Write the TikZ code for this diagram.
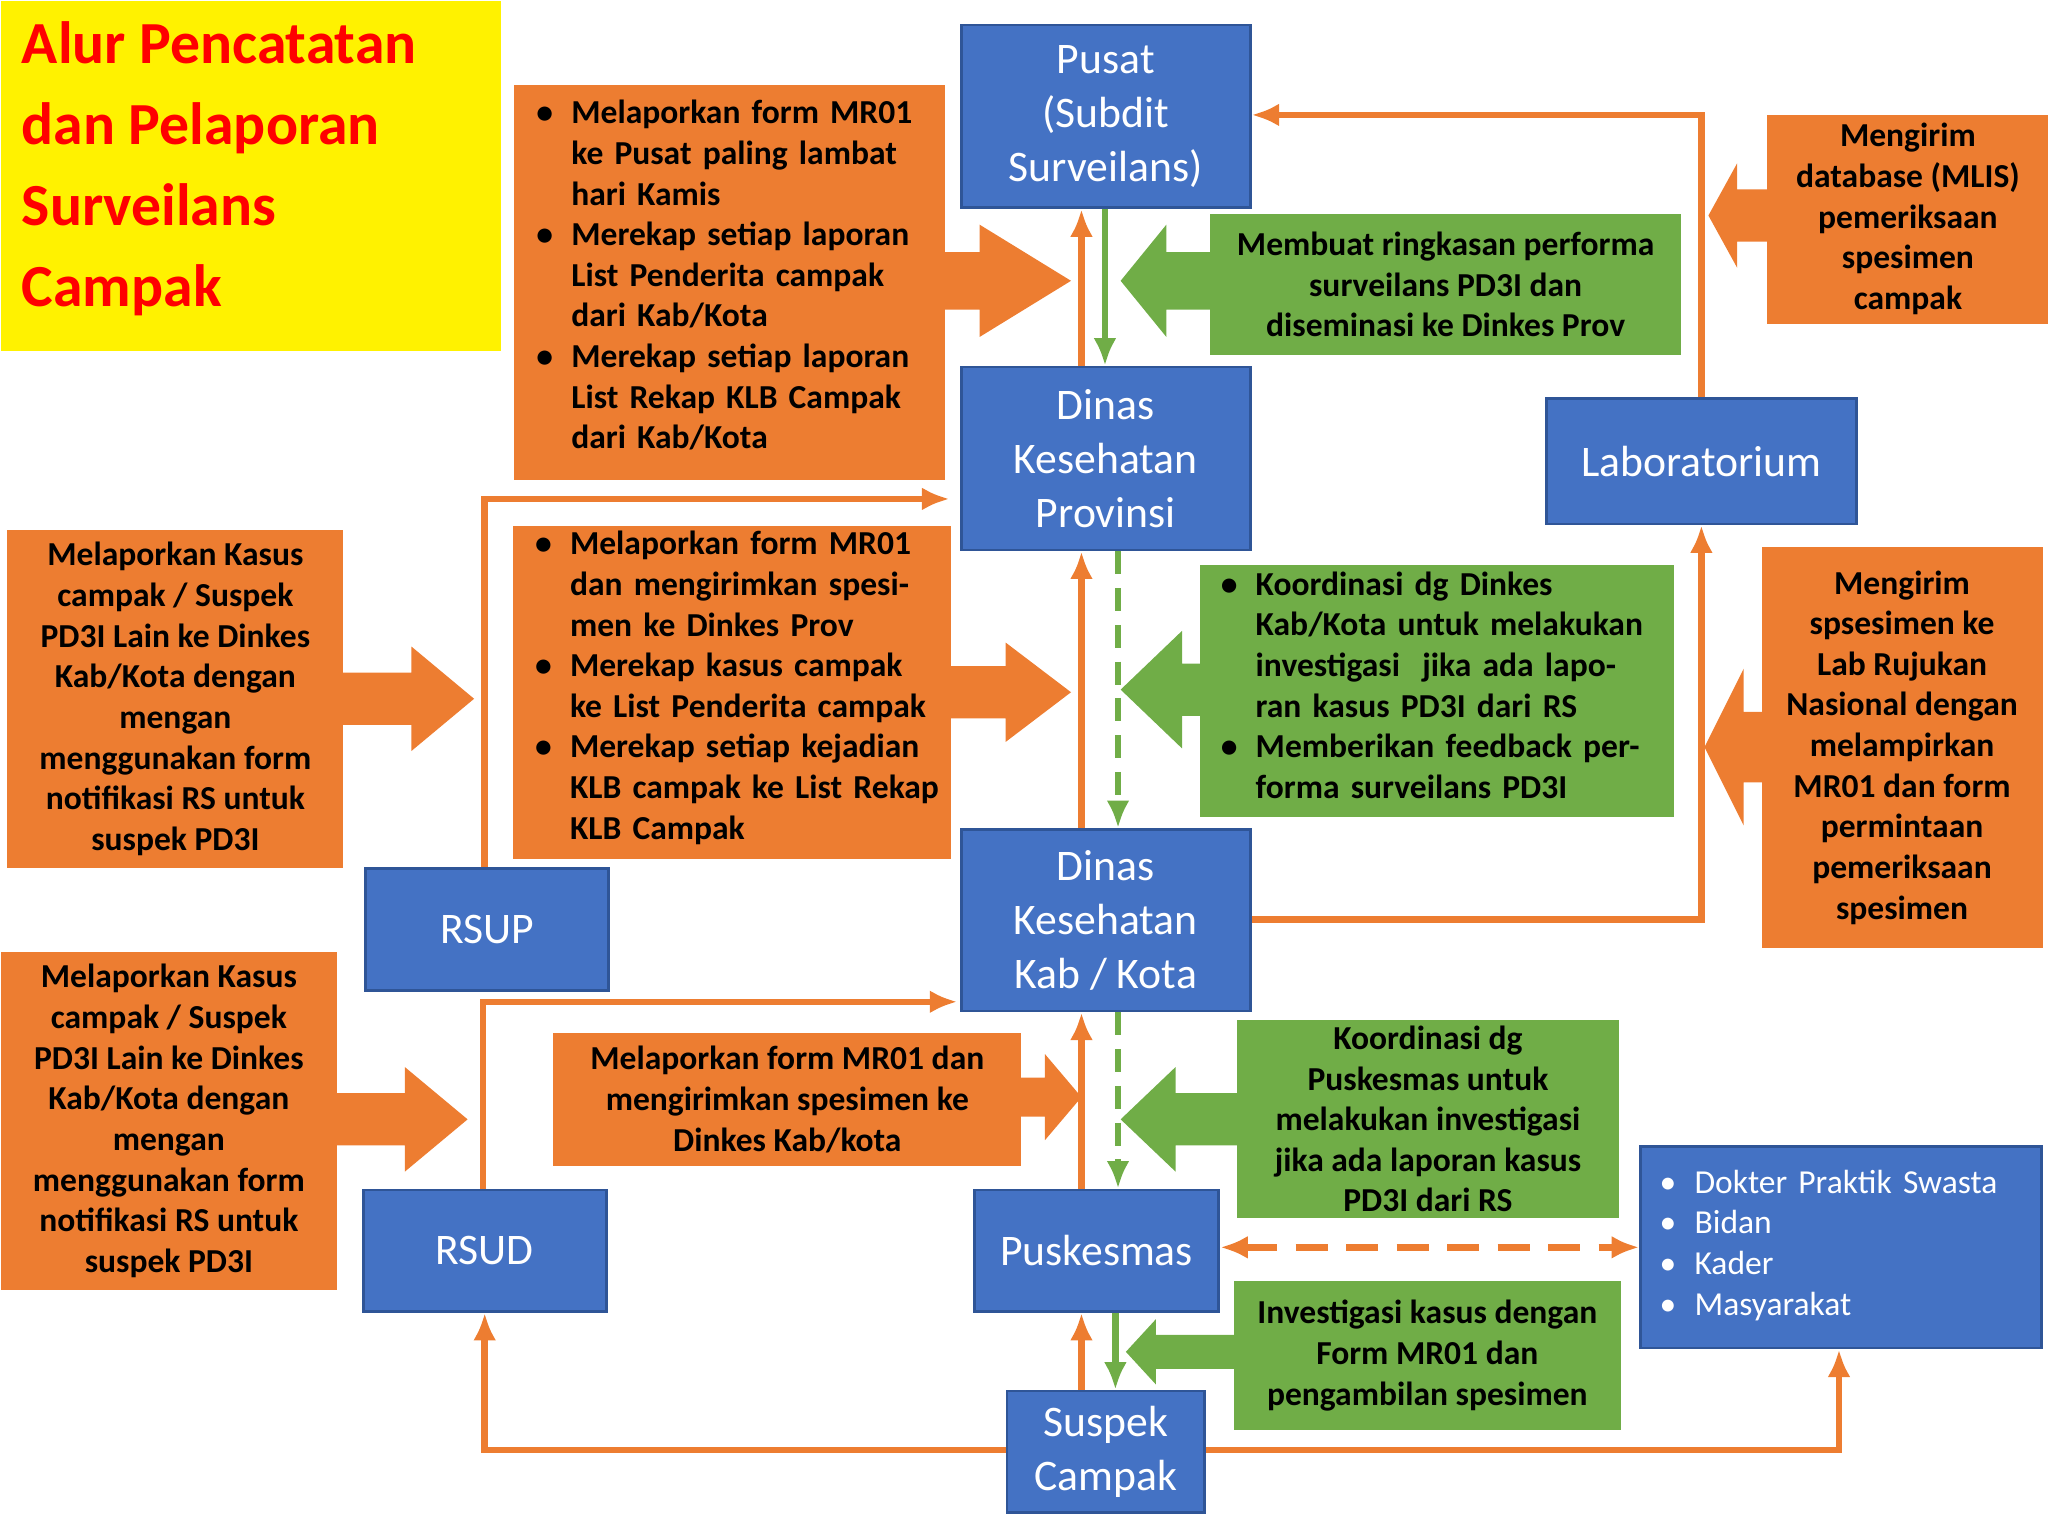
\documentclass[tikz,border=0pt]{standalone}
\usepackage{fontspec}
\setmainfont{Carlito}
\usetikzlibrary{arrows.meta}
\definecolor{or}{HTML}{ED7D31}
\definecolor{bl}{HTML}{4472C4}
\definecolor{gr}{HTML}{70AD47}
\definecolor{bd}{HTML}{2F5597}
\newcommand{\bit}[1]{\hangindent=7.6pt\hangafter=1\noindent\makebox[7.6pt][l]{\textbullet}#1\par}
\begin{document}
\begin{tikzpicture}[x=0.01cm,y=-0.01cm,
 obox/.style={fill=or,inner sep=0pt,anchor=north west,font=\bfseries\fontsize{7.3}{8.85}\selectfont,text=black},
 gbox/.style={fill=gr,inner sep=0pt,anchor=north west,font=\bfseries\fontsize{7.3}{8.85}\selectfont,text=black},
 bbox/.style={fill=bl,draw=bd,line width=0.6pt,inner sep=0pt,anchor=north west,font=\fontsize{9.5}{11.8}\selectfont,text=white,align=center},
 oline/.style={draw=or,line width=1.4pt,-{Latex[length=6pt,width=5pt]}},
 gline/.style={draw=gr,line width=1.4pt,-{Latex[length=6pt,width=5pt]}},
 gdash/.style={gline,dash pattern=on 5pt off 3pt}]
\useasboundingbox (0,0) rectangle (1568,1176);
% title
\node[fill=yellow,anchor=north west,minimum width=3.83cm,minimum height=2.68cm,inner sep=0pt] (title) at (0,0) {};
\node[anchor=north west,text=red,font=\bfseries\fontsize{13}{17.6}\selectfont,align=left,inner sep=0pt] (tt) at (16,16) {Alur Pencatatan\\dan Pelaporan\\Surveilans\\Campak};
% blue nodes
\node[bbox,minimum width=2.21cm,minimum height=1.40cm] (pusat) at (735,18) {Pusat\\(Subdit\\Surveilans)};
\node[bbox,minimum width=2.21cm,minimum height=1.40cm] (prov) at (735,280) {Dinas\\Kesehatan\\Provinsi};
\node[bbox,minimum width=2.37cm,minimum height=0.96cm] (lab) at (1183,304) {Laboratorium};
\node[bbox,minimum width=2.21cm,minimum height=1.39cm] (kab) at (735,634) {Dinas\\Kesehatan\\Kab / Kota};
\node[bbox,minimum width=1.86cm,minimum height=0.93cm] (rsup) at (279,664) {RSUP};
\node[bbox,minimum width=1.86cm,minimum height=0.93cm] (rsud) at (277,910) {RSUD};
\node[bbox,minimum width=1.87cm,minimum height=0.93cm] (pusk) at (745,910) {Puskesmas};
\node[bbox,minimum width=1.51cm,minimum height=0.93cm] (susp) at (770,1064) {Suspek\\Campak};
\node[bbox,minimum width=3.07cm,minimum height=1.54cm,align=left,font=\fontsize{7.3}{8.85}\selectfont] (list) at (1255,877) {};
\node[anchor=north west,text=white,font=\fontsize{7.3}{8.85}\selectfont,text width=2.7cm,inner sep=0pt] (listt) at (1270,895) {\bit{Dokter Praktik Swasta}\bit{Bidan}\bit{Kader}\bit{Masyarakat}};
% block arrows
\fill[or] (700,193) -- (750,193) -- (750,172) -- (820,215) -- (750,258) -- (750,237) -- (700,237) -- cycle;
\fill[gr] (940,193) -- (893,193) -- (893,172) -- (858,215) -- (893,258) -- (893,237) -- (940,237) -- cycle;
\fill[or] (1360,145) -- (1330,145) -- (1330,125) -- (1308,165) -- (1330,205) -- (1330,185) -- (1360,185) -- cycle;
\fill[or] (250,515) -- (315,515) -- (315,495) -- (363,535) -- (315,575) -- (315,555) -- (250,555) -- cycle;
\fill[or] (710,510) -- (770,510) -- (770,492) -- (820,530) -- (770,568) -- (770,550) -- (710,550) -- cycle;
\fill[gr] (930,508) -- (905,508) -- (905,483) -- (858,528) -- (905,573) -- (905,548) -- (930,548) -- cycle;
\fill[or] (1360,545) -- (1335,545) -- (1335,512) -- (1305,572) -- (1335,632) -- (1335,599) -- (1360,599) -- cycle;
\fill[or] (245,837) -- (310,837) -- (310,817) -- (358,857) -- (310,897) -- (310,877) -- (245,877) -- cycle;
\fill[or] (770,825) -- (800,825) -- (800,807) -- (828,840) -- (800,873) -- (800,855) -- (770,855) -- cycle;
\fill[gr] (960,837) -- (900,837) -- (900,817) -- (858,857) -- (900,897) -- (900,877) -- (960,877) -- cycle;
\fill[gr] (955,1022) -- (885,1022) -- (885,1010) -- (862,1035) -- (885,1060) -- (885,1048) -- (955,1048) -- cycle;
% orange / green text boxes
\node[obox,minimum width=3.30cm,minimum height=3.03cm] (o1) at (393,64) {};
\node[anchor=north west,inner sep=0pt,text width=2.9cm,font=\bfseries\fontsize{7.3}{8.85}\selectfont] (o1t) at (410,76) {\bit{Melaporkan form MR01 ke Pusat paling lambat hari Kamis}\bit{Merekap setiap laporan List Penderita campak dari Kab/Kota}\bit{Merekap setiap laporan List Rekap KLB Campak dari Kab/Kota}};
\node[obox,minimum width=3.35cm,minimum height=2.55cm] (o2) at (392,402) {};
\node[anchor=north west,inner sep=0pt,text width=3.1cm,font=\bfseries\fontsize{7.3}{8.85}\selectfont] (o2t) at (409,406) {\bit{Melaporkan form MR01 dan mengirimkan spesimen ke Dinkes Prov}\bit{Merekap kasus campak ke List Penderita campak}\bit{Merekap setiap kejadian KLB campak ke List Rekap KLB Campak}};
\node[obox,minimum width=3.58cm,minimum height=1.02cm,align=center] (o3) at (423,790) {Melaporkan form MR01 dan\\mengirimkan spesimen ke\\Dinkes Kab/kota};
\node[obox,minimum width=2.57cm,minimum height=2.59cm,align=center] (ol1) at (5,405) {Melaporkan Kasus\\campak / Suspek\\PD3I Lain ke Dinkes\\Kab/Kota dengan\\mengan\\menggunakan form\\notifikasi RS untuk\\suspek PD3I};
\node[obox,minimum width=2.57cm,minimum height=2.59cm,align=center] (ol2) at (0,728) {Melaporkan Kasus\\campak / Suspek\\PD3I Lain ke Dinkes\\Kab/Kota dengan\\mengan\\menggunakan form\\notifikasi RS untuk\\suspek PD3I};
\node[obox,minimum width=2.16cm,minimum height=1.60cm,align=center] (or1) at (1352,87) {Mengirim\\database (MLIS)\\pemeriksaan\\spesimen\\campak};
\node[obox,minimum width=2.15cm,minimum height=3.07cm,align=center] (or2) at (1348,418) {Mengirim\\spsesimen ke\\Lab Rujukan\\Nasional dengan\\melampirkan\\MR01 dan form\\permintaan\\pemeriksaan\\spesimen};
\node[gbox,minimum width=3.60cm,minimum height=1.08cm,align=center] (g1) at (926,163) {Membuat ringkasan performa\\surveilans PD3I dan\\diseminasi ke Dinkes Prov};
\node[gbox,minimum width=3.63cm,minimum height=1.93cm] (g2) at (918,432) {};
\node[anchor=north west,inner sep=0pt,text width=3.3cm,font=\bfseries\fontsize{7.3}{8.85}\selectfont] (g2t) at (934,437) {\bit{Koordinasi dg Dinkes Kab/Kota untuk melakukan investigasi\ \ jika ada laporan kasus PD3I dari RS}\bit{Memberikan feedback performa surveilans PD3I}};
\node[gbox,minimum width=2.93cm,minimum height=1.52cm,align=center] (g3) at (946,780) {Koordinasi dg\\Puskesmas untuk\\melakukan investigasi\\jika ada laporan kasus\\PD3I dari RS};
\node[gbox,minimum width=2.96cm,minimum height=1.14cm,align=center] (g4) at (944,980) {Investigasi kasus dengan\\Form MR01 dan\\pengambilan spesimen};
% connectors
\draw[oline] (lab.north) |- (pusat.east |- 0,88);
\draw[oline] (prov.north -| 828,0) -- (pusat.south -| 828,0);
\draw[gline] (pusat.south -| 846,0) -- (prov.north -| 846,0);
\draw[oline] (rsup.north -| 371,0) |- (727,382);
\draw[oline] (kab.north -| 828,0) -- (prov.south -| 828,0);
\draw[gdash] (prov.south -| 856,0) -- (kab.north -| 856,0);
\draw[oline] (kab.east |- 0,704) -| (lab.south);
\draw[oline] (rsud.north -| 370,0) |- (733,767);
\draw[oline] (pusk.north -| 828,0) -- (kab.south -| 828,0);
\draw[gdash] (kab.south -| 856,0) -- (pusk.north -| 856,0);
\draw[draw=or,line width=1.6pt,dash pattern=on 7pt off 4pt,{Latex[length=6pt,width=5pt]}-{Latex[length=6pt,width=5pt]}] (pusk.east |- 0,955) -- (list.west |- 0,955);
\draw[oline] (susp.north -| 828,0) -- (pusk.south -| 828,0);
\draw[gline] (pusk.south -| 854,0) -- (susp.north -| 854,0);
\draw[oline] (susp.west |- 0,1110) -| (rsud.south);
\draw[oline] (susp.east |- 0,1110) -| (list.south -| 1408,0);
\end{tikzpicture}
\end{document}
